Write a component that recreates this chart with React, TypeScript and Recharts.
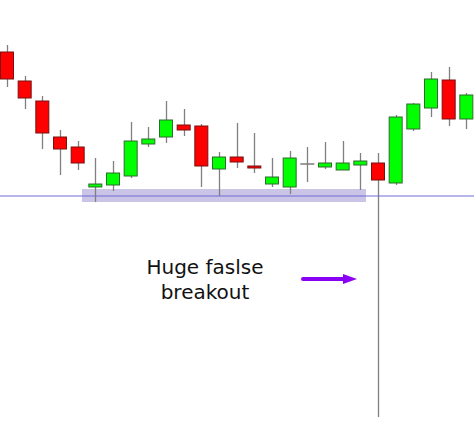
import React from "react";
import {
  ComposedChart,
  Bar,
  XAxis,
  YAxis,
  ReferenceLine,
  ReferenceArea,
} from "recharts";

// Candle data, price in points (bottom of chart = 0).
const opens = [371, 342, 322, 286, 276, 236, 238, 247, 279, 286, 298, 297, 254, 266, 257, 239, 236, 259, 256, 253, 258, 260, 240, 294, 315, 343, 304];
const highs = [378, 347, 327, 293, 282, 265, 262, 301, 296, 322, 314, 299, 271, 300, 290, 265, 272, 276, 281, 282, 270, 270, 308, 320, 351, 356, 330];
const lows = [336, 314, 274, 248, 253, 221, 232, 245, 276, 280, 287, 236, 227, 255, 250, 236, 229, 241, 254, 253, 233, 6, 238, 292, 306, 297, 294];
const closes = [344, 325, 290, 274, 260, 239, 250, 282, 284, 303, 293, 257, 266, 261, 255, 246, 265, 259, 260, 260, 262, 243, 306, 319, 344, 304, 328];

// support level and zone (zone spans candle index 4.25 .. 20.33)
const supportLevel = 227;
const zoneTop = 234;
const zoneBottom = 221;
const zoneFrom = 4.25;
const zoneTo = 20.33;

const data = opens.map((o, i) => ({
  i,
  open: o,
  high: highs[i],
  low: lows[i],
  close: closes[i],
  range: [lows[i], highs[i]],
}));

// Draws wick + body inside the [low, high] bar rect.
function Candle(props: any) {
  const { x, y, width, height, payload } = props;
  const top = Math.min(y, y + height);
  const bottom = Math.max(y, y + height);
  const { open, close, high, low } = payload;
  const ratio = (bottom - top) / (high - low || 1);
  const toPx = (v: number) => top + (high - v) * ratio;
  const cx = Math.round(x + width / 2) + 0.5;
  const bodyTop = toPx(Math.max(open, close));
  const bodyBottom = toPx(Math.min(open, close));
  const up = close > open;
  const doji = close === open;
  const fill = doji ? "#7a7a7a" : up ? "#00ff00" : "#ff0000";
  const stroke = doji ? "#7a7a7a" : up ? "#2f6b2f" : "#7a1010";
  return (
    <g>
      <line x1={cx} x2={cx} y1={top} y2={bottom} stroke="#808080" strokeWidth={1.3} />
      {doji ? (
        <line x1={x} x2={x + width} y1={bodyTop} y2={bodyTop} stroke={stroke} strokeWidth={1.5} />
      ) : (
        <rect
          x={x + 0.5}
          y={bodyTop}
          width={width - 1}
          height={Math.max(bodyBottom - bodyTop, 2)}
          fill={fill}
          stroke={stroke}
          strokeWidth={1}
        />
      )}
    </g>
  );
}

export default function App() {
  return (
    <div style={{ position: "absolute", left: 0, top: 0, width: 474, height: 423, overflow: "hidden", background: "#fff" }}>
      <div style={{ position: "absolute", left: -2, top: 0 }}>
        <ComposedChart
          width={477}
          height={423}
          data={data}
          margin={{ top: 0, right: 0, bottom: 0, left: 0 }}
        >
          <XAxis dataKey="i" type="number" domain={[-0.5, 26.5]} hide />
          <YAxis domain={[0, 423]} hide />
          <ReferenceArea
            x1={zoneFrom}
            x2={zoneTo}
            y1={zoneBottom}
            y2={zoneTop}
            fill="#cac4e6"
            fillOpacity={1}
            stroke="none"
          />
          <ReferenceLine y={supportLevel} stroke="#6d6dd6" strokeWidth={1} />
          <Bar dataKey="range" shape={<Candle />} barSize={14} isAnimationActive={false} />
        </ComposedChart>
      </div>
      <div
        style={{
          position: "absolute",
          left: 105,
          top: 255,
          width: 200,
          textAlign: "center",
          fontFamily: "'DejaVu Sans', Verdana, sans-serif",
          fontSize: 20,
          lineHeight: "25px",
          color: "#111",
        }}
      >
        Huge faslse
        <br />
        breakout
      </div>
      <svg style={{ position: "absolute", left: 0, top: 0 }} width={474} height={423}>
        <line x1={303} x2={346} y1={279} y2={279} stroke="#8a00f5" strokeWidth={4} strokeLinecap="round" />
        <polygon points="343,274 357,279 343,284" fill="#8a00f5" />
      </svg>
    </div>
  );
}
